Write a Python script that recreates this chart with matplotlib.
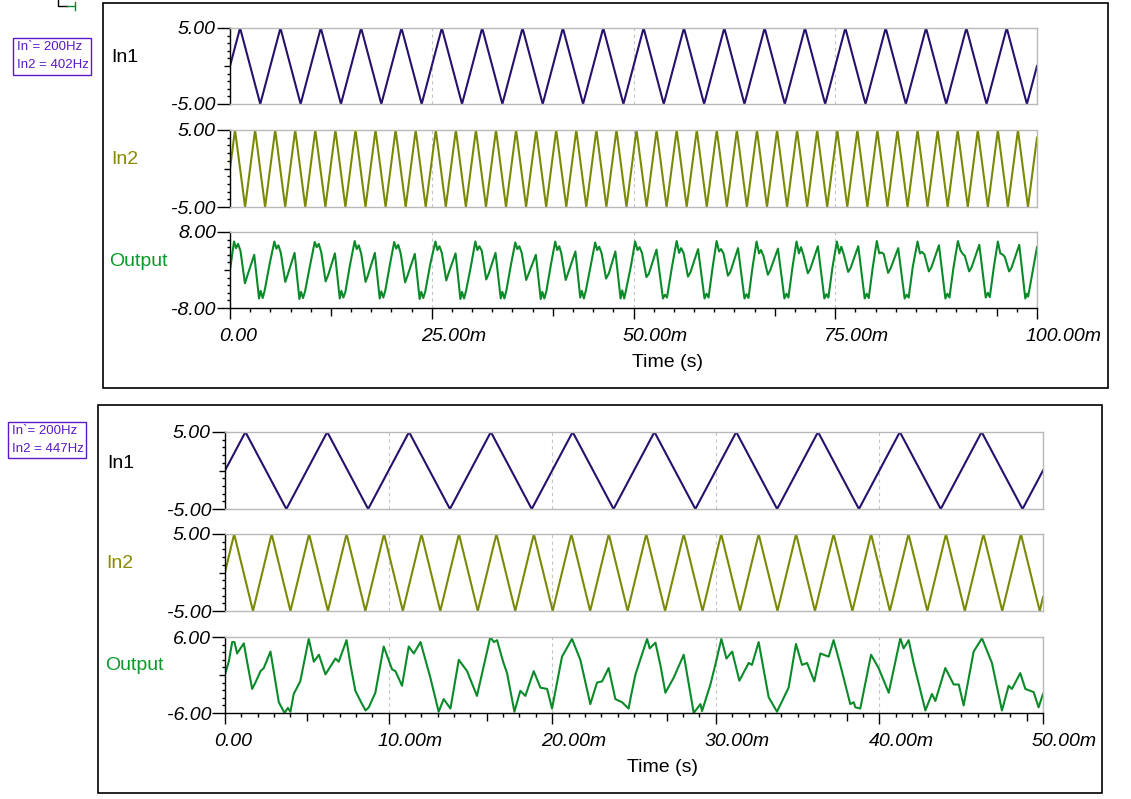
import numpy as np
import matplotlib
matplotlib.use("Agg")
import matplotlib.pyplot as plt
from matplotlib.patches import Rectangle
from matplotlib.lines import Line2D
from matplotlib.transforms import ScaledTranslation

# ---------------- data (times in ms) ----------------
# upper simulation: In1 = 200 Hz, In2 = 402 Hz, 0..100 ms
top_in1_peaks = [1.25, 6.25, 11.25, 16.25, 21.25, 26.25, 31.25, 36.25, 41.25, 46.25,
                 51.25, 56.25, 61.25, 66.25, 71.25, 76.25, 81.25, 86.25, 91.25, 96.25]
top_in1_troughs = [3.75, 8.75, 13.75, 18.75, 23.75, 28.75, 33.75, 38.75, 43.75, 48.75,
                   53.75, 58.75, 63.75, 68.75, 73.75, 78.75, 83.75, 88.75, 93.75, 98.75]
top_in1_ends = [(0.0, 0.0), (100.0, 0.0)]

top_in2_peaks = [0.62, 3.11, 5.60, 8.08, 10.57, 13.06, 15.55, 18.03, 20.52, 23.01,
                 25.50, 27.99, 30.47, 32.96, 35.45, 37.94, 40.42, 42.91, 45.40, 47.89,
                 50.37, 52.86, 55.35, 57.84, 60.32, 62.81, 65.30, 67.79, 70.27, 72.76,
                 75.25, 77.74, 80.22, 82.71, 85.20, 87.69, 90.17, 92.66, 95.15, 97.64]
top_in2_troughs = [1.87, 4.35, 6.84, 9.33, 11.82, 14.30, 16.79, 19.28, 21.77, 24.25,
                   26.74, 29.23, 31.72, 34.20, 36.69, 39.18, 41.67, 44.15, 46.64, 49.13,
                   51.62, 54.10, 56.59, 59.08, 61.57, 64.05, 66.54, 69.03, 71.52, 74.00,
                   76.49, 78.98, 81.47, 83.96, 86.44, 88.93, 91.42, 93.91, 96.39, 98.88]
top_in2_ends = [(0.0, 0.0), (100.0, 4.0)]

top_out_t = [
    0.0,
    0.5, 0.75, 1.0, 1.3, 1.85, 2.15, 3.0, 3.6, 3.8, 4.05, 4.3, 4.9,
    5.5, 5.75, 6.0, 6.3, 6.85, 7.15, 8.0, 8.6, 8.8, 9.05, 9.3, 9.9,
    10.5, 10.75, 11.0, 11.3, 11.85, 12.2, 13.0, 13.6, 13.8, 14.05, 14.3, 14.85,
    15.45, 15.7, 15.95, 16.25, 16.8, 17.1, 17.95, 18.55, 18.75, 19.0, 19.25, 19.8,
    20.35, 20.6, 20.85, 21.15, 21.7, 22.0, 22.9, 23.5, 23.7, 23.95, 24.2, 24.8,
    25.45, 25.7, 25.95, 26.25, 26.8, 27.1, 27.95, 28.55, 28.75, 29.0, 29.25, 29.85,
    30.4, 30.65, 30.9, 31.2, 31.75, 32.05, 32.9, 33.55, 33.75, 34.0, 34.25, 34.8,
    35.35, 35.6, 35.85, 36.15, 36.7, 37.05, 37.9, 38.5, 38.7, 38.95, 39.2, 39.75,
    40.3, 40.55, 40.8, 41.05, 41.6, 41.95, 42.8, 43.4, 43.6, 43.85, 44.1, 44.7,
    45.25, 45.5, 45.75, 46.05, 46.6, 46.95, 47.75, 48.4, 48.6, 48.85, 49.1, 49.7,
    50.2, 50.5, 50.75, 51.05, 51.6, 51.9, 52.85, 53.65, 53.9, 54.15, 54.75,
    55.35, 55.65, 55.9, 56.2, 56.75, 57.05, 58.0, 58.8, 59.05, 59.3, 59.8,
    60.3, 60.6, 60.85, 61.15, 61.7, 62.0, 62.95, 63.75, 64.0, 64.25, 64.75,
    65.25, 65.55, 65.8, 66.1, 66.65, 66.95, 67.9, 68.7, 68.95, 69.2, 69.7,
    70.2, 70.5, 70.75, 71.05, 71.6, 71.9, 72.85, 73.65, 73.9, 74.15, 74.65,
    75.2, 75.5, 75.75, 76.05, 76.6, 76.9, 77.85, 78.65, 78.9, 79.15, 79.65,
    80.15, 80.45, 80.7, 81.0, 81.55, 81.85, 82.8, 83.6, 83.85, 84.1, 84.6,
    85.2, 85.5, 85.75, 86.05, 86.6, 86.9, 87.85, 88.65, 88.9, 89.15, 89.65,
    90.2, 90.5, 90.75, 91.05, 91.6, 91.9, 92.85, 93.65, 93.9, 94.15, 94.65,
    95.15, 95.45, 95.7, 96.0, 96.55, 96.85, 97.8, 98.55, 98.75, 98.9, 100.0,
]
top_out_v = [
    0.0,
    6.0, 4.6, 5.5, 4.0, -2.8, -1.2, 3.2, -6.0, -4.4, -5.9, -4.3, 1.2,
    6.0, 4.5, 5.2, 3.6, -2.5, -1.0, 3.6, -6.1, -4.6, -5.9, -4.5, 0.8,
    5.9, 4.8, 5.5, 3.8, -2.4, -0.9, 3.5, -6.0, -4.4, -5.8, -4.6, 0.9,
    6.1, 4.4, 5.2, 3.5, -2.5, -1.1, 3.6, -6.0, -4.5, -5.8, -4.3, 1.0,
    5.9, 4.5, 5.3, 3.5, -2.6, -1.2, 3.4, -6.1, -4.6, -5.9, -4.5, 1.1,
    6.0, 4.2, 5.0, 3.6, -2.2, -0.6, 3.5, -6.1, -4.6, -6.0, -4.4, 0.8,
    6.0, 4.2, 5.0, 4.0, -2.0, -0.8, 3.6, -6.0, -4.6, -6.0, -4.3, 1.0,
    5.8, 4.4, 5.0, 3.6, -2.1, -0.6, 3.2, -6.1, -4.6, -6.0, -4.5, 1.0,
    6.0, 4.2, 5.0, 3.5, -2.1, -0.4, 3.9, -5.8, -4.4, -6.0, -4.3, 1.0,
    5.8, 4.2, 4.9, 3.5, -1.8, -0.7, 3.9, -6.0, -4.3, -6.0, -4.0, 1.0,
    6.0, 4.2, 4.8, 3.6, -1.5, -0.8, 4.3, -6.0, -5.2, -5.8, 0.5,
    6.1, 3.6, 4.6, 3.6, -1.4, -0.5, 4.4, -6.0, -5.0, -5.8, 0.5,
    6.1, 3.9, 4.4, 3.5, -1.2, -0.4, 4.6, -6.0, -5.1, -5.9, 0.6,
    6.0, 3.5, 4.2, 3.0, -1.0, 0.0, 4.5, -6.0, -5.0, -5.8, 0.6,
    6.0, 3.5, 4.8, 3.2, -0.7, 0.2, 5.0, -6.0, -5.1, -5.8, 0.5,
    6.0, 3.5, 4.9, 3.3, -0.4, 0.4, 5.0, -6.0, -5.0, -5.9, 0.6,
    6.1, 3.5, 3.7, 3.4, -0.6, 0.3, 4.6, -6.0, -5.2, -5.8, 0.6,
    6.0, 3.5, 3.8, 3.3, -0.3, 0.5, 5.2, -6.0, -5.0, -5.8, 0.5,
    6.1, 4.2, 3.5, 3.0, -0.3, 0.6, 5.3, -5.8, -4.8, -5.7, 0.6,
    6.0, 3.5, 3.3, 2.8, -0.3, 0.5, 5.3, -6.0, -5.0, -5.6, 4.8,
]

# lower simulation: In1 = 200 Hz, In2 labelled 447 Hz, 0..50 ms
bot_in1_peaks = [1.25, 6.25, 11.25, 16.25, 21.25, 26.25, 31.25, 36.25, 41.25, 46.25]
bot_in1_troughs = [3.75, 8.75, 13.75, 18.75, 23.75, 28.75, 33.75, 38.75, 43.75, 48.75]
bot_in1_ends = [(0.0, 0.0), (50.0, 0.0)]

bot_in2_peaks = [0.56, 2.85, 5.14, 7.43, 9.72, 12.01, 14.30, 16.59, 18.88, 21.17, 23.46,
                 25.75, 28.04, 30.33, 32.62, 34.91, 37.20, 39.49, 41.78, 44.07, 46.36,
                 48.65]
bot_in2_troughs = [1.71, 4.00, 6.29, 8.58, 10.87, 13.16, 15.45, 17.74, 20.03, 22.32,
                   24.61, 26.90, 29.19, 31.48, 33.77, 36.06, 38.35, 40.64, 42.93, 45.22,
                   47.51, 49.80]
bot_in2_ends = [(0.0, 0.0), (50.0, -3.2)]

bot_out_t = [
    0.0, 0.23, 0.44, 0.58, 0.74, 1.15, 1.35, 1.66, 1.86, 2.17, 2.37, 2.78, 2.98,
    3.29, 3.64, 3.84, 4.0, 4.2, 4.6, 5.12, 5.43, 5.74, 6.14, 6.75, 6.95, 7.43,
    7.67, 7.97, 8.28, 8.59, 8.79, 9.19, 9.7, 10.21, 10.42, 10.82, 11.23, 11.54,
    11.95, 12.55, 13.06, 13.37, 13.78, 14.29, 14.8, 15.4, 16.22, 16.43, 16.63,
    17.0, 17.24, 17.69, 18.05, 18.36, 18.87, 19.28, 19.69, 19.99, 20.6, 21.21,
    21.72, 22.33, 22.74, 23.05, 23.45, 23.86, 24.27, 24.67, 24.8, 25.09, 25.8,
    25.96, 26.31, 26.61, 26.92, 27.43, 28.04, 28.65, 29.06, 29.16, 29.67, 29.97,
    30.34, 30.65, 31.0, 31.44, 32.01, 32.21, 32.62, 33.23, 33.74, 34.45, 34.9,
    35.27, 35.58, 36.02, 36.39, 36.9, 37.2, 37.61, 38.22, 38.43, 38.53, 38.83,
    39.49, 39.95, 40.57, 41.28, 41.48, 41.79, 42.09, 42.81, 43.21, 43.42, 44.03,
    44.54, 44.85, 45.15, 45.76, 46.27, 46.88, 47.49, 47.9, 48.1, 48.61, 48.92,
    49.43, 49.73, 50.0,
]
bot_out_v = [
    0.1, 2.1, 5.2, 5.2, 3.4, 5.0, 2.1, -2.2, -1.2, 0.6, 1.1, 3.7, 0.6,
    -4.3, -6.0, -5.2, -5.8, -3.0, -1.0, 5.7, 2.1, 3.2, 0.1, 2.6, 2.1, 5.5,
    1.6, -2.5, -4.1, -5.6, -5.1, -2.8, 4.5, 0.9, 0.6, -1.7, 4.5, 3.4,
    5.2, -0.4, -5.8, -3.8, -5.3, 2.4, 0.6, -3.3, 6.0, 5.2, 5.5,
    2.1, 0.3, -5.8, -2.5, -3.3, 0.6, -2.0, -2.2, -5.3, 2.9, 5.7,
    2.4, -4.6, -1.2, -1.0, 1.1, -3.8, -4.3, -5.3, -3.5, 0.1, 5.7,
    4.2, 5.1, 1.6, -2.8, -0.4, 3.2, -6.0, -4.6, -5.7, -1.5, 1.6,
    5.7, 2.6, 3.7, -0.9, 1.9, 1.6, 5.2, -3.5, -5.8, -2.0, 4.9,
    1.6, 1.9, -1.0, 3.4, 2.9, 5.5, 1.6, -4.6, -4.3, -5.1, -5.3,
    3.2, 1.1, -2.8, 5.8, 4.2, 5.5, 1.9, -5.6, -3.0, -4.1, 1.1,
    -1.5, -1.5, -4.8, 3.7, 5.8, 1.9, -5.6, -1.7, -2.2, 0.3, -2.2,
    -2.7, -5.1, -3.0,
]

# ---------------- styling ----------------
W, H = 1131, 799
PX = 0.72  # points per pixel at 100 dpi
C_IN1 = "#26106c"
C_IN2 = "#7b8a06"
C_OUT = "#0b8a2a"
C_PURPLE = "#5a18c8"
C_GRID = "#b9b9b9"

plt.rcParams["font.family"] = ["Liberation Sans", "DejaVu Sans"]
fig = plt.figure(figsize=(W / 100, H / 100), dpi=100)
fig.patch.set_facecolor("white")


def fx(x):
    return x / W


def fy(y):
    return 1 - y / H


def box(x0, y0, x1, y1):
    return [fx(x0), fy(y1), (x1 - x0) / W, (y1 - y0) / H]


def tri(peaks, troughs, ends):
    t = [ends[0][0]] + list(peaks) + list(troughs) + [ends[1][0]]
    v = [ends[0][1]] + [5.0] * len(peaks) + [-5.0] * len(troughs) + [ends[1][1]]
    order = np.argsort(t)
    return np.array(t)[order], np.array(v)[order]


def strip(bx, t, v, color, ylim, ylabels, xmax, xmajor, is_bottom,
          xminor=None, xmid=None, xlabels=None):
    ax = fig.add_axes(box(*bx))
    ax.plot(t, v, color=color, lw=1.5)
    ax.set_xlim(0, xmax)
    ax.set_ylim(*ylim)
    ax.set_axisbelow(True)
    ax.set_xticks(xmajor)
    ax.grid(axis="x", color="#c4c4c4", ls=(0, (3, 3)), lw=0.8)
    for s in ["top", "right", "bottom"]:
        ax.spines[s].set_color(C_GRID)
        ax.spines[s].set_linewidth(1.0)
    ax.spines["left"].set_color("black")
    ax.spines["left"].set_linewidth(1.0)

    # y ticks: end values labelled, ten minor divisions, longer centre tick
    ax.set_yticks(list(ylim))
    ax.set_yticklabels(ylabels, fontsize=14, fontstyle="italic")
    ax.tick_params(axis="y", which="major", length=13 * PX, width=1,
                   pad=1 * PX, color="black")
    ymin = list(np.linspace(ylim[0], ylim[1], 11)[1:-1])
    ax.set_yticks(ymin, minor=True)
    ax.tick_params(axis="y", which="minor", length=3 * PX, width=1, color="black")
    for tk, loc in zip(ax.yaxis.get_minor_ticks(), ymin):
        if abs(loc - (ylim[0] + ylim[1]) / 2) < 1e-9:
            tk.tick1line.set_markersize(6 * PX)

    if not is_bottom:
        ax.tick_params(axis="x", which="both", length=0, labelbottom=False)
    else:
        ax.spines["bottom"].set_color("black")
        ax.set_xticks(xminor, minor=True)
        ax.tick_params(axis="x", which="major", length=11 * PX, width=1,
                       pad=9 * PX, color="black")
        ax.tick_params(axis="x", which="minor", length=4 * PX, width=1, color="black")
        ax.set_xticklabels(xlabels, fontsize=14, fontstyle="italic", ha="left")
        shift = ScaledTranslation(-11 / 100, 0, fig.dpi_scale_trans)
        for lab in ax.get_xticklabels():
            lab.set_transform(lab.get_transform() + shift)
        for tk, loc in zip(ax.xaxis.get_minor_ticks(), xminor):
            if any(abs(loc - m) < 1e-9 for m in xmid):
                tk.tick1line.set_markersize(8 * PX)
    return ax


def frame(x0, y0, x1, y1, color="black", lw=1.2):
    fig.add_artist(Rectangle((fx(x0), fy(y1)), (x1 - x0) / W, (y1 - y0) / H,
                             transform=fig.transFigure, fill=False,
                             edgecolor=color, lw=lw))


# ---------------- upper panel ----------------
frame(103, 3, 1108, 388)
t1, v1 = tri(top_in1_peaks, top_in1_troughs, top_in1_ends)
t2, v2 = tri(top_in2_peaks, top_in2_troughs, top_in2_ends)
maj = [0, 25, 50, 75, 100]
strip((230, 28, 1037, 104), t1, v1, C_IN1, (-5, 5), ["-5.00", "5.00"], 100, maj, False)
strip((230, 130, 1037, 207), t2, v2, C_IN2, (-5, 5), ["-5.00", "5.00"], 100, maj, False)
strip((230, 232, 1037, 308), top_out_t, top_out_v, C_OUT, (-8, 8), ["-8.00", "8.00"],
      100, maj, True, xminor=list(np.arange(2.5, 100, 2.5)),
      xmid=[12.5, 37.5, 62.5, 87.5],
      xlabels=["0.00", "25.00m", "50.00m", "75.00m", "100.00m"])
fig.text(fx(111), fy(57), "In1", fontsize=14, va="center", color="black")
fig.text(fx(111), fy(160), "In2", fontsize=14, va="center", color="#8a8a00")
fig.text(fx(109), fy(262), "Output", fontsize=14, va="center", color="#0a9a2a")
fig.text(fx(632), fy(363), "Time (s)", fontsize=14, va="center")

# legend box upper
frame(13, 38, 91, 75, color=C_PURPLE, lw=1.0)
fig.text(fx(17), fy(47), "In`= 200Hz", fontsize=9.5, color=C_PURPLE, va="center")
fig.text(fx(17), fy(65), "In2 = 402Hz", fontsize=9.5, color=C_PURPLE, va="center")

# little connector mark at the top left
fig.add_artist(Line2D([fx(58), fx(58), fx(67)], [fy(0), fy(6), fy(6)],
                      transform=fig.transFigure, color="black", lw=1))
fig.add_artist(Line2D([fx(67), fx(75)], [fy(6), fy(6)],
                      transform=fig.transFigure, color="#0a8a2a", lw=1))
fig.add_artist(Line2D([fx(75), fx(75)], [fy(2), fy(10)],
                      transform=fig.transFigure, color="#0a8a2a", lw=1))

# ---------------- lower panel ----------------
frame(98, 405, 1102, 793)
t1, v1 = tri(bot_in1_peaks, bot_in1_troughs, bot_in1_ends)
t2, v2 = tri(bot_in2_peaks, bot_in2_troughs, bot_in2_ends)
maj = [0, 10, 20, 30, 40, 50]
strip((225, 432, 1043, 509), t1, v1, C_IN1, (-5, 5), ["-5.00", "5.00"], 50, maj, False)
strip((225, 534, 1043, 611), t2, v2, C_IN2, (-5, 5), ["-5.00", "5.00"], 50, maj, False)
strip((225, 637, 1043, 713), bot_out_t, bot_out_v, C_OUT, (-6, 6), ["-6.00", "6.00"],
      50, maj, True, xminor=list(np.arange(1, 50, 1.0)),
      xmid=[5, 15, 25, 35, 45],
      xlabels=["0.00", "10.00m", "20.00m", "30.00m", "40.00m", "50.00m"])
fig.text(fx(107), fy(463), "In1", fontsize=14, va="center", color="black")
fig.text(fx(106), fy(564), "In2", fontsize=14, va="center", color="#8a8a00")
fig.text(fx(105), fy(666), "Output", fontsize=14, va="center", color="#0a9a2a")
fig.text(fx(627), fy(768), "Time (s)", fontsize=14, va="center")

frame(8, 422, 86, 458, color=C_PURPLE, lw=1.0)
fig.text(fx(12), fy(431), "In`= 200Hz", fontsize=9.5, color=C_PURPLE, va="center")
fig.text(fx(12), fy(449), "In2 = 447Hz", fontsize=9.5, color=C_PURPLE, va="center")

fig.savefig("out.png", dpi=100, facecolor="white")
